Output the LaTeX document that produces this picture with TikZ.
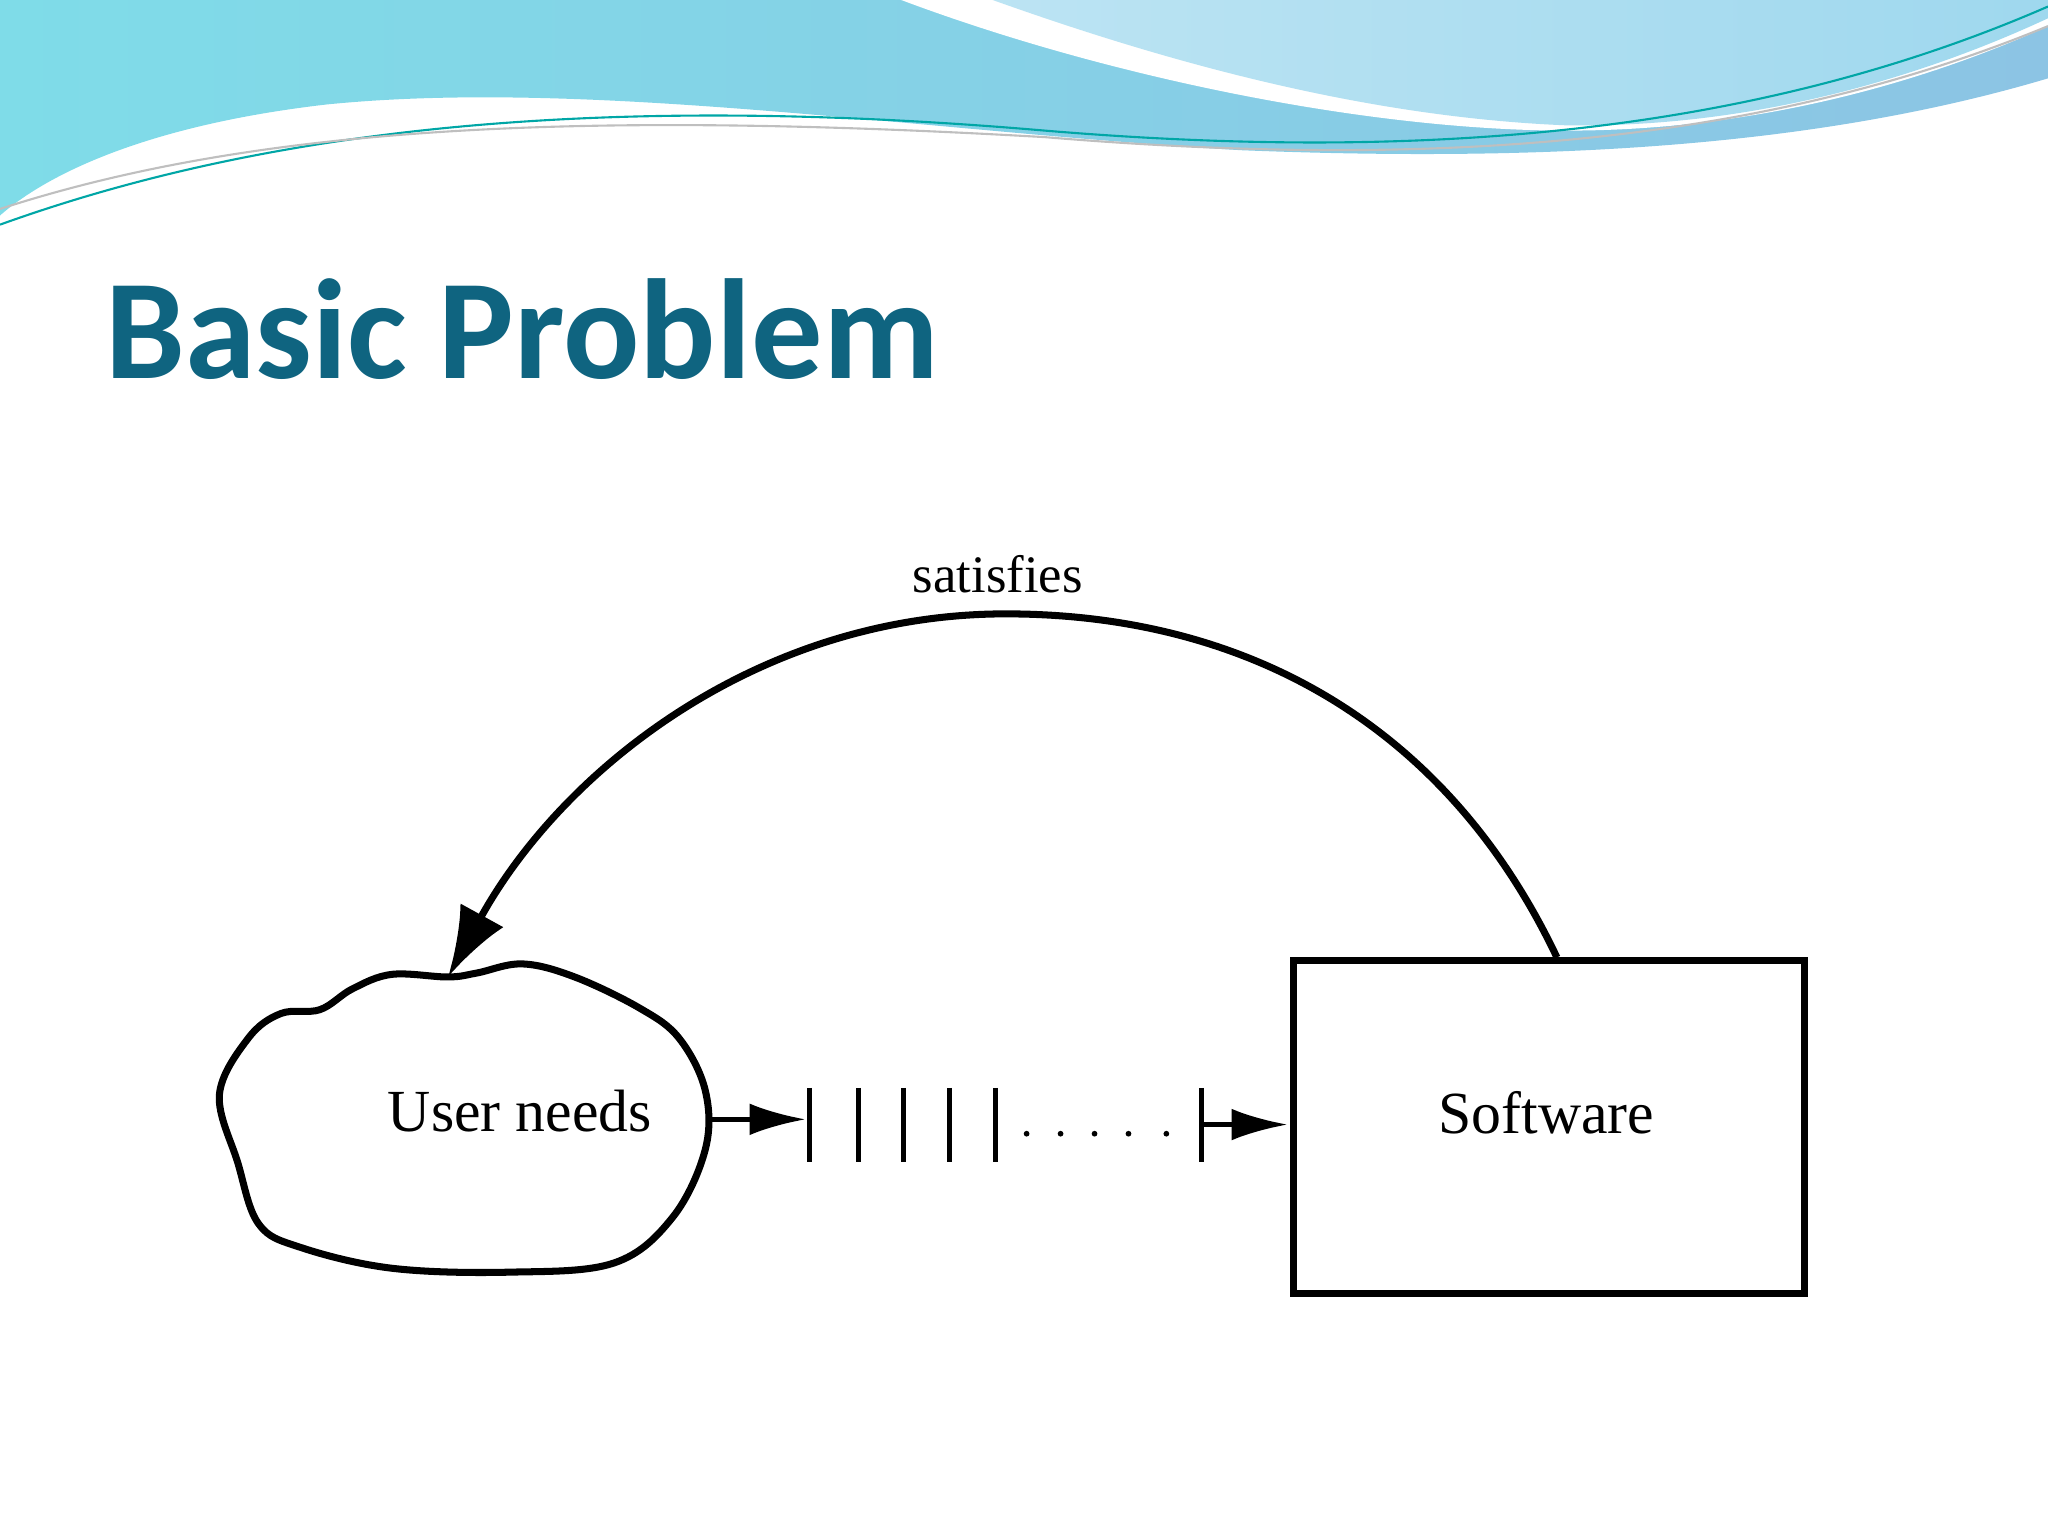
\documentclass[tikz,border=0pt]{standalone}
\usepackage{fontspec}
\setmainfont{Liberation Serif}
\newfontfamily\titlefont{Carlito}
\usetikzlibrary{arrows.meta}
\definecolor{titleblue}{HTML}{0F6480}
\definecolor{bandL}{HTML}{7FDCE8}
\definecolor{bandR}{HTML}{8CC4E4}
\definecolor{bandT}{HTML}{9FD8EE}
\begin{document}
\begin{tikzpicture}[x=0.013061cm,y=-0.013061cm,
  lbl/.style={font=\fontsize{17}{20}\selectfont},
  thick2/.style={line width=2pt},
  tick/.style={line width=1.4pt}]
\useasboundingbox (0,0) rectangle (1568,1176);
% header band
\shade[left color=bandL, right color=bandR]
  (0,0) -- (1568,0) -- (1568,60) .. controls (1400,110) and (1200,125) .. (950,115)
  .. controls (700,100) and (450,60) .. (250,80) .. controls (120,95) and (40,130) .. (0,165) -- cycle;
\fill[white] (690,0) .. controls (850,60) and (1050,100) .. (1200,100) .. controls (1350,100) and (1480,60) .. (1568,20) -- (1568,0) -- cycle;
\shade[left color=bandT!70!white, right color=bandT] (760,0) .. controls (900,50) and (1050,90) .. (1200,96) .. controls (1350,98) and (1480,55) .. (1568,14) -- (1568,0) -- cycle;
\draw[teal!70!cyan, line width=0.6pt] (0,172) .. controls (200,100) and (450,70) .. (800,100) .. controls (1100,125) and (1350,100) .. (1568,5);
\draw[gray!50, line width=0.6pt] (0,160) .. controls (200,95) and (450,85) .. (800,105) .. controls (1100,130) and (1350,110) .. (1568,20);
% title
\node[anchor=base west, inner sep=0, font=\titlefont\bfseries\fontsize{40.5}{46}\selectfont, text=titleblue] (title) at (80,290) {Basic Problem};
% cloud
\draw[thick2] plot[smooth cycle, tension=0.6] coordinates {(343,748) (300,746) (270,757) (245,773) (215,776) (190,795) (168,838) (182,890) (198,937) (230,955) (300,971) (390,974) (470,967) (515,932) (540,880) (540,835) (520,795) (490,772) (440,748) (400,738) (365,745)};
\node[lbl] (user) at (398,851) {User needs};
\coordinate (cloudtop) at (343,748);
\coordinate (cloudright) at (545,857);
% box
\node[draw, line width=2pt, minimum width=391*0.013061cm, minimum height=255*0.013061cm, anchor=north west, inner sep=0] (sw) at (988,733) {};
\node[lbl] (swlabel) at (1184,852) {Software};
\coordinate (swtop) at (1192,733);
% arc
\draw[thick2, -{Latex[length=20pt, width=14pt]}] (swtop) .. controls (1110,560) and (960,470) .. (770,470) .. controls (580,470) and (430,590) .. (cloudtop);
\node[lbl, font=\fontsize{15}{18}\selectfont] (sat) at (764,440) {satisfies};
% ticks
\coordinate (t0) at (617,857);
\draw[line width=1.4pt, -{Latex[length=16pt,width=9pt]}] (cloudright) -- (t0);
\foreach \x in {620,657,692,727,762} \draw[tick] (\x,833) -- (\x,890);
\foreach \x in {786,812,838,864,893} \fill (\x,868) circle (2.2);
\draw[tick] (920,833) -- (920,890);
\coordinate (t1) at (920,861);
\coordinate (swleft) at (986,861);
\draw[line width=1.4pt, -{Latex[length=16pt,width=9pt]}] (t1) -- (swleft);
\end{tikzpicture}
\end{document}
